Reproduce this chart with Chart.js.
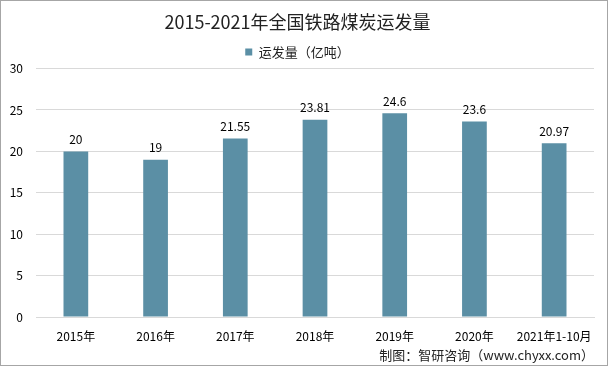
<!DOCTYPE html>
<html>
<head>
<meta charset="utf-8">
<script src="https://cdn.jsdelivr.net/npm/chart.js@4.4.1/dist/chart.umd.min.js"></script>
<style>
  html, body { margin: 0; padding: 0; background: #fff; }
  #wrap { width: 606px; height: 364px; border: 1px solid #a6a6a6; position: relative; }
</style>
</head>
<body>
<div id="wrap"><canvas id="chart"></canvas></div>
<script>
// chart data
const categories = ['2015年', '2016年', '2017年', '2018年', '2019年', '2020年', '2021年1-10月'];
const volume = [20, 19, 21.55, 23.81, 24.6, 23.6, 20.97];
const yTicks = [0, 5, 10, 15, 20, 25, 30];

const fontFamily = '"Microsoft YaHei", "Noto Sans CJK SC", sans-serif';

// value labels above bars
const valueLabels = {
  id: 'valueLabels',
  afterDatasetsDraw(chart) {
    const ctx = chart.ctx;
    const meta = chart.getDatasetMeta(0);
    ctx.save();
    ctx.font = '12px ' + fontFamily;
    ctx.fillStyle = '#000';
    ctx.textAlign = 'center';
    ctx.textBaseline = 'bottom';
    meta.data.forEach((bar, i) => {
      ctx.fillText(String(volume[i]), bar.x, bar.y - 6);
    });
    ctx.restore();
  }
};

new Chart(document.getElementById('chart'), {
  type: 'bar',
  data: {
    labels: categories,
    datasets: [{
      label: '运发量（亿吨）',
      data: volume,
      backgroundColor: '#5b8fa5',
      barPercentage: 0.62,
      categoryPercentage: 0.5
    }]
  },
  options: {
    responsive: true,
    maintainAspectRatio: false,
    animation: false,
    layout: { padding: { left: 0, right: 13, top: 4, bottom: 2 } },
    plugins: {
      title: {
        display: true,
        text: '2015-2021年全国铁路煤炭运发量',
        color: '#222',
        font: { family: fontFamily, size: 18, weight: 'normal' },
        padding: { top: 6, bottom: 7 }
      },
      subtitle: {
        display: true,
        position: 'bottom',
        align: 'end',
        text: '制图：智研咨询（www.chyxx.com）',
        color: '#222',
        font: { family: fontFamily, size: 13 },
        padding: { top: 0, bottom: 0 }
      },
      legend: {
        display: true,
        labels: {
          boxWidth: 7,
          boxHeight: 7,
          color: '#222',
          font: { family: fontFamily, size: 13 },
          padding: 6
        }
      },
      tooltip: { enabled: false }
    },
    scales: {
      x: {
        grid: { display: false },
        border: { color: '#d9d9d9' },
        ticks: { color: '#000', font: { family: fontFamily, size: 12 }, padding: 4, maxRotation: 0 }
      },
      y: {
        min: 0,
        max: 30,
        afterBuildTicks(axis) { axis.ticks = yTicks.map(v => ({ value: v })); },
        afterFit(axis) { axis.width = 35; },
        grid: { color: '#d9d9d9', drawTicks: false },
        border: { display: false },
        ticks: { color: '#000', font: { family: fontFamily, size: 12 }, padding: 13 }
      }
    }
  },
  plugins: [valueLabels]
});
</script>
</body>
</html>
